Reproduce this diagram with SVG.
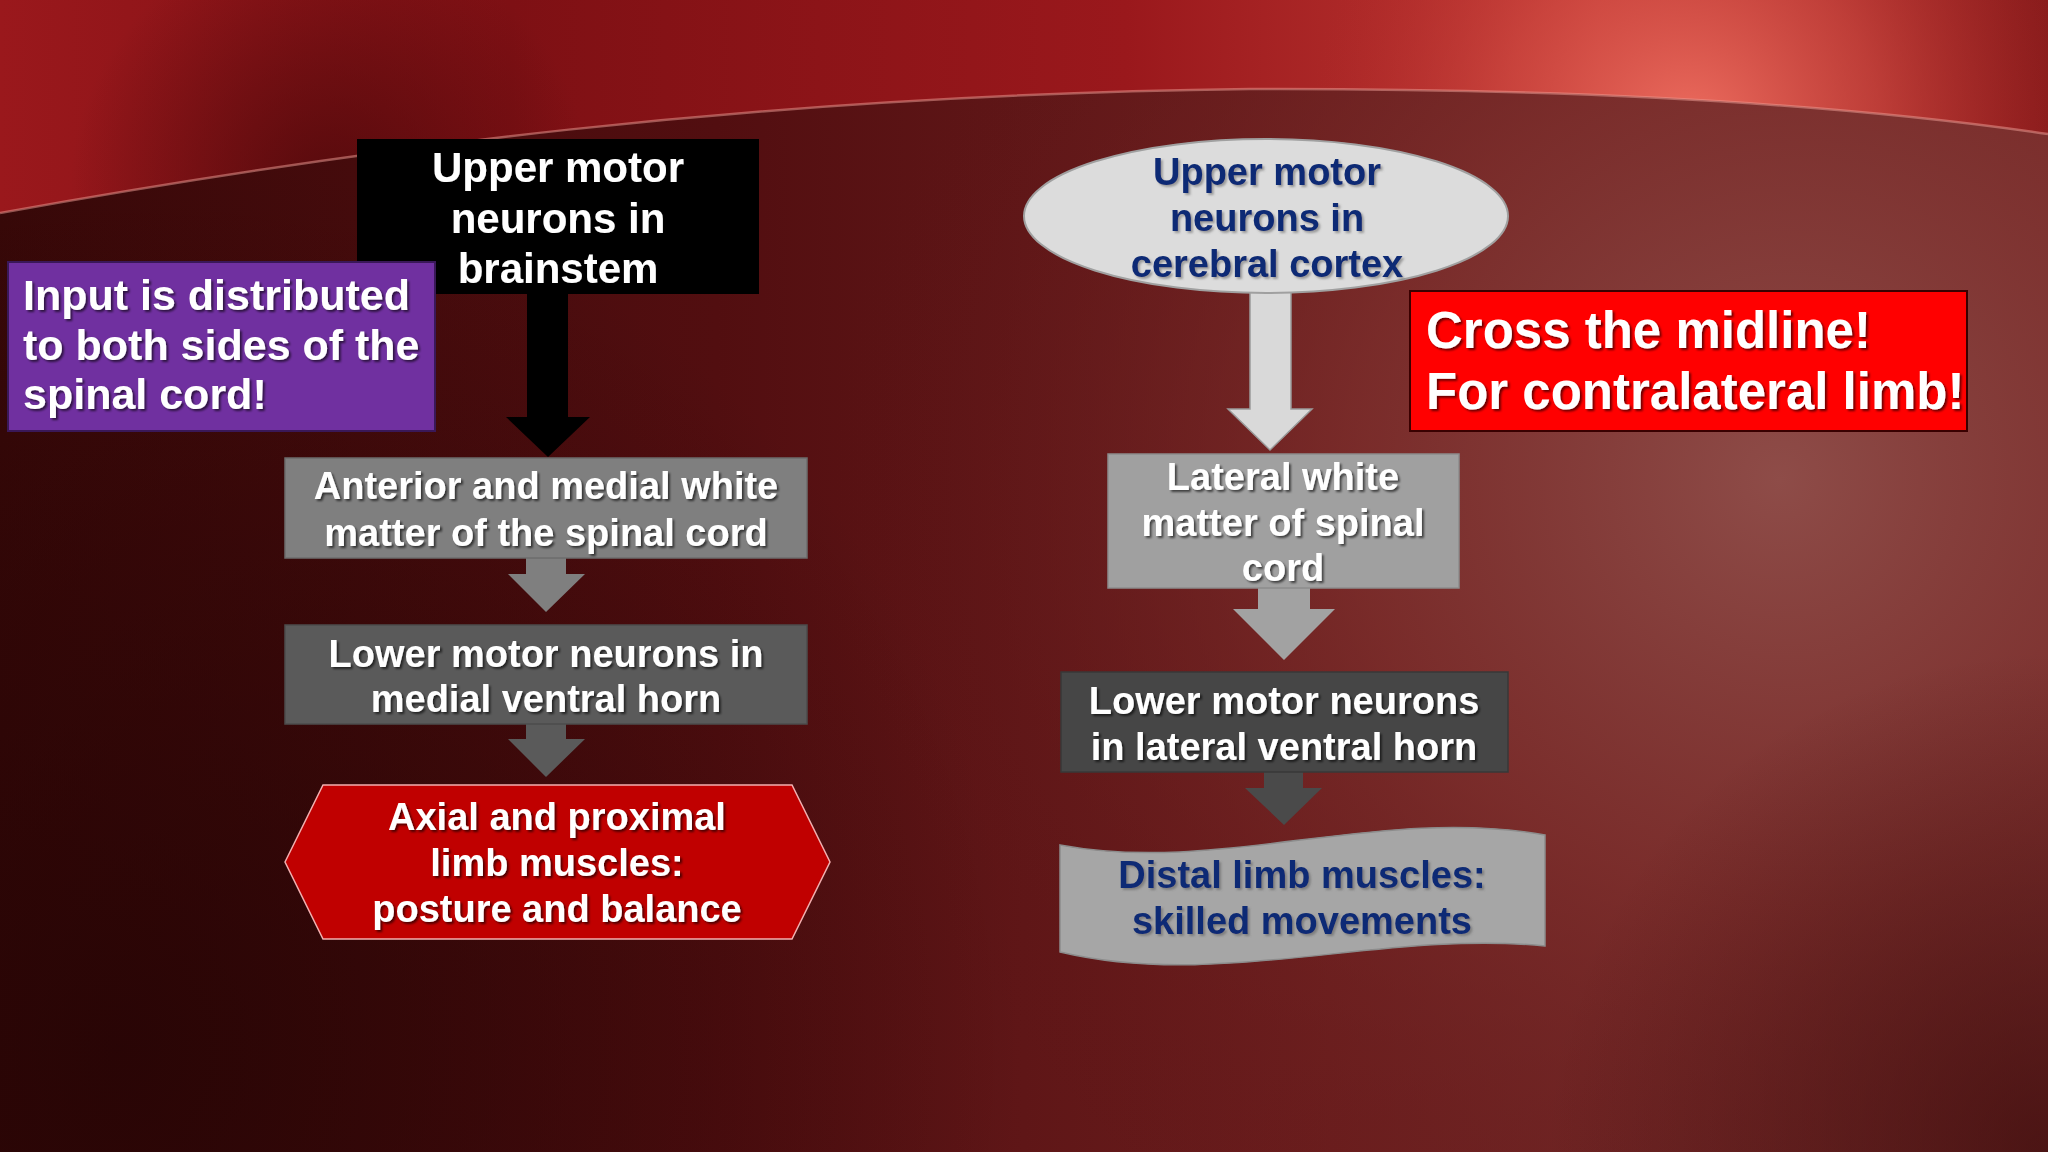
<svg xmlns="http://www.w3.org/2000/svg" width="2048" height="1152" viewBox="0 0 2048 1152">
  <defs>
    <linearGradient id="bgBase" x1="0" y1="0" x2="1" y2="0">
      <stop offset="0" stop-color="#380808"/>
      <stop offset="0.35" stop-color="#520e10"/>
      <stop offset="0.65" stop-color="#6c1e1e"/>
      <stop offset="1" stop-color="#7a3432"/>
    </linearGradient>
    <radialGradient id="glowRight" cx="1780" cy="480" r="950" gradientUnits="userSpaceOnUse">
      <stop offset="0" stop-color="#8e4c48" stop-opacity="1"/>
      <stop offset="0.45" stop-color="#7c2e2c" stop-opacity="0.8"/>
      <stop offset="1" stop-color="#5a1214" stop-opacity="0"/>
    </radialGradient>
    <radialGradient id="darkLeft" cx="120" cy="1050" r="900" gradientUnits="userSpaceOnUse">
      <stop offset="0" stop-color="#240404" stop-opacity="0.8"/>
      <stop offset="1" stop-color="#240404" stop-opacity="0"/>
    </radialGradient>
    <radialGradient id="darkBR" cx="2048" cy="1152" r="500" gradientUnits="userSpaceOnUse">
      <stop offset="0" stop-color="#3a0a0a" stop-opacity="0.7"/>
      <stop offset="1" stop-color="#3a0a0a" stop-opacity="0"/>
    </radialGradient>
    <linearGradient id="topBand" x1="0" y1="0" x2="1" y2="0">
      <stop offset="0" stop-color="#9a181c"/>
      <stop offset="0.25" stop-color="#7e1014"/>
      <stop offset="0.55" stop-color="#9a181c"/>
      <stop offset="0.78" stop-color="#c03a34"/>
      <stop offset="1" stop-color="#8a1c1c"/>
    </linearGradient>
    <radialGradient id="topGlow" cx="1690" cy="130" r="380" gradientUnits="userSpaceOnUse">
      <stop offset="0" stop-color="#ee6e60" stop-opacity="1"/>
      <stop offset="0.5" stop-color="#d24c44" stop-opacity="0.6"/>
      <stop offset="1" stop-color="#b02828" stop-opacity="0"/>
    </radialGradient>
    <radialGradient id="topLeftDark" cx="330" cy="190" r="260" gradientUnits="userSpaceOnUse">
      <stop offset="0" stop-color="#4a080a" stop-opacity="0.8"/>
      <stop offset="1" stop-color="#4a080a" stop-opacity="0"/>
    </radialGradient>
    <clipPath id="aboveArc">
      <path d="M0,0 H2048 V134 C1850,105 1600,88 1250,89 C750,95 350,150 0,213 Z"/>
    </clipPath>
    <filter id="txtShadow" x="-10%" y="-20%" width="120%" height="150%">
      <feDropShadow dx="2" dy="2" stdDeviation="1.2" flood-color="#000" flood-opacity="0.6"/>
    </filter>
    <filter id="txtShadowLight" x="-10%" y="-20%" width="120%" height="150%">
      <feDropShadow dx="2" dy="2" stdDeviation="1.2" flood-color="#555" flood-opacity="0.5"/>
    </filter>
    <style>
      .t { font-family: "Liberation Sans", Arial, sans-serif; font-weight: bold; fill: #ffffff; filter: url(#txtShadow); }
      .tc { text-anchor: middle; }
      .navy { fill: #0f2a74; filter: url(#txtShadowLight); }
      .f43 { font-size: 43px; }
      .f42 { font-size: 42px; }
      .f38 { font-size: 38px; }
      .f51 { font-size: 51px; }
    </style>
  </defs>

  <!-- background -->
  <rect x="0" y="0" width="2048" height="1152" fill="url(#bgBase)"/>
  <rect x="0" y="0" width="2048" height="1152" fill="url(#glowRight)"/>
  <rect x="0" y="0" width="2048" height="1152" fill="url(#darkLeft)"/>
  <rect x="0" y="0" width="2048" height="1152" fill="url(#darkBR)"/>
  <g clip-path="url(#aboveArc)">
    <rect x="0" y="0" width="2048" height="220" fill="url(#topBand)"/>
    <rect x="0" y="0" width="2048" height="220" fill="url(#topGlow)"/>
    <rect x="0" y="0" width="2048" height="220" fill="url(#topLeftDark)"/>
  </g>
  <path d="M0,213 C350,150 750,95 1250,89 C1600,88 1850,105 2048,134" fill="none" stroke="#f0a098" stroke-opacity="0.5" stroke-width="2.5"/>

  <!-- connectors -->
  <g id="connectors">
    <polygon points="527,294 568,294 568,417 590,417 548,457 506,417 527,417" fill="#000000"/>
    <polygon points="526,558 566,558 566,574 585,574 546,612 508,574 526,574" fill="#7f7f7f"/>
    <polygon points="526,724 566,724 566,739 585,739 546,777 508,739 526,739" fill="#5a5a5a"/>
    <polygon points="1250,286 1291,286 1291,409 1312,409 1270,450 1228,409 1250,409" fill="#d9d9d9" stroke="#9a9a9a" stroke-width="1.5"/>
    <polygon points="1258,588 1310,588 1310,609 1335,609 1284,660 1233,609 1258,609" fill="#a2a2a2"/>
    <polygon points="1264,772 1303,772 1303,788 1322,788 1284,825 1245,788 1264,788" fill="#4a4a4a"/>
  </g>

  <!-- nodes -->
  <g id="node-brainstem">
    <rect x="357" y="139" width="402" height="155" fill="#000000"/>
    <text class="t tc f42" x="558" y="182">Upper motor</text>
    <text class="t tc f42" x="558" y="233">neurons in</text>
    <text class="t tc f42" x="558" y="283">brainstem</text>
  </g>

  <g id="node-input-note">
    <rect x="8" y="262" width="427" height="169" fill="#7030a0" stroke="#3a1858" stroke-width="2"/>
    <text class="t f43" x="23" y="310">Input is distributed</text>
    <text class="t f43" x="23" y="360">to both sides of the</text>
    <text class="t f43" x="23" y="409">spinal cord!</text>
  </g>

  <g id="node-anterior-white">
    <rect x="285" y="458" width="522" height="100" fill="#7f7f7f" stroke="#6c6c6c" stroke-width="1.5"/>
    <text class="t tc f38" x="546" y="499">Anterior and medial white</text>
    <text class="t tc f38" x="546" y="546">matter of the spinal cord</text>
  </g>

  <g id="node-lmn-medial">
    <rect x="285" y="625" width="522" height="99" fill="#5a5a5a" stroke="#4c4c4c" stroke-width="1.5"/>
    <text class="t tc f38" x="546" y="667">Lower motor neurons in</text>
    <text class="t tc f38" x="546" y="712">medial ventral horn</text>
  </g>

  <g id="node-axial">
    <polygon points="285,862 323,785 792,785 830,862 792,939 323,939" fill="#c00000" stroke="#f2b0b0" stroke-width="1.5"/>
    <text class="t tc f38" x="557" y="830">Axial and proximal</text>
    <text class="t tc f38" x="557" y="876">limb muscles:</text>
    <text class="t tc f38" x="557" y="922">posture and balance</text>
  </g>

  <g id="node-cortex">
    <ellipse cx="1266" cy="216" rx="242" ry="77" fill="#dcdcdc" stroke="#a0a0a0" stroke-width="2"/>
    <text class="t tc f38 navy" x="1267" y="185">Upper motor</text>
    <text class="t tc f38 navy" x="1267" y="231">neurons in</text>
    <text class="t tc f38 navy" x="1267" y="277">cerebral cortex</text>
  </g>

  <g id="node-cross-note">
    <rect x="1410" y="291" width="557" height="140" fill="#ff0000" stroke="#3a0000" stroke-width="2"/>
    <text class="t f51" x="1426" y="348">Cross the midline!</text>
    <text class="t f51" x="1426" y="409">For contralateral limb!</text>
  </g>

  <g id="node-lateral-white">
    <rect x="1108" y="454" width="351" height="134" fill="#a0a0a0" stroke="#8c8c8c" stroke-width="1.5"/>
    <text class="t tc f38" x="1283" y="490">Lateral white</text>
    <text class="t tc f38" x="1283" y="536">matter of spinal</text>
    <text class="t tc f38" x="1283" y="581">cord</text>
  </g>

  <g id="node-lmn-lateral">
    <rect x="1061" y="672" width="447" height="100" fill="#464646" stroke="#383838" stroke-width="1.5"/>
    <text class="t tc f38" x="1284" y="714">Lower motor neurons</text>
    <text class="t tc f38" x="1284" y="760">in lateral ventral horn</text>
  </g>

  <g id="node-distal">
    <path d="M1060,845 C1220,875 1380,805 1545,835 L1545,946 C1380,930 1220,990 1060,952 Z" fill="#a6a6a6" stroke="#8c8c8c" stroke-width="1.5"/>
    <text class="t tc f38 navy" x="1302" y="888">Distal limb muscles:</text>
    <text class="t tc f38 navy" x="1302" y="934">skilled movements</text>
  </g>
</svg>
